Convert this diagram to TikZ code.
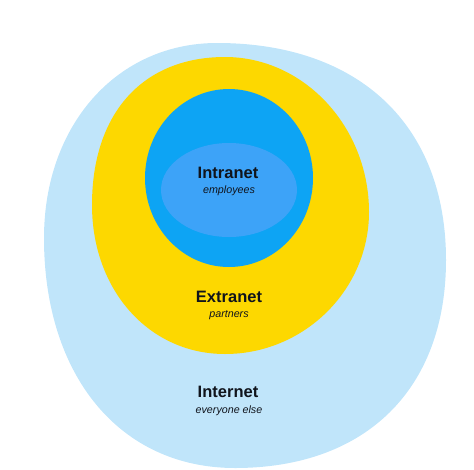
\documentclass[tikz,border=0pt]{standalone}
\usepackage{fontspec}
\setmainfont{Liberation Sans}
\usetikzlibrary{shapes.geometric}

\definecolor{netOuter}{HTML}{C0E5FA}
\definecolor{netYellow}{HTML}{FDD800}
\definecolor{netBlue}{HTML}{0DA4F4}
\definecolor{netCore}{HTML}{3DA3F8}
\definecolor{netInk}{HTML}{10141C}

\tikzset{
  zone/.style={draw=none, ellipse, inner sep=0pt},
  title/.style={font=\fontsize{16.5}{18}\selectfont\bfseries, text=netInk, inner sep=0pt},
  who/.style={font=\fontsize{10.7}{12}\selectfont\itshape, text=netInk, inner sep=0pt}
}

\begin{document}
\begin{tikzpicture}[x=1pt, y=-1pt]
        \useasboundingbox (0,0) rectangle (474,469);

        % Internet - rounded outer blob
        \fill[netOuter] (217,43) .. controls (359,43) and (446,125) .. (446,260)
            .. controls (446,389) and (366,468) .. (235,468)
            .. controls (120,468) and (44,376) .. (44,238)
            .. controls (44,125) and (117,43) .. (217,43) -- cycle;

        % Extranet
        \fill[netYellow] (225,57) .. controls (304,57) and (369,127) .. (369,212)
            .. controls (369,290) and (304,354) .. (225,354)
            .. controls (149,354) and (92,290) .. (92,205)
            .. controls (92,113) and (143,57) .. (225,57) -- cycle;

        % Intranet and the core
        \node[zone, fill=netBlue, minimum width=168pt, minimum height=178pt] (INTRA) at (229,178) {};
        \node[zone, fill=netCore, minimum width=136pt, minimum height=94pt] (CORE) at (229,190) {};

        % Labels
        \node[title] (T1) at (228,173) {Intranet};
        \node[who] (W1) at (229,191) {employees};
        \node[title] (T2) at (229,297) {Extranet};
        \node[who] (W2) at (229,315) {partners};
        \node[title] (T3) at (228,392) {Internet};
        \node[who] (W3) at (229,411) {everyone else};
    \end{tikzpicture}
\end{document}
